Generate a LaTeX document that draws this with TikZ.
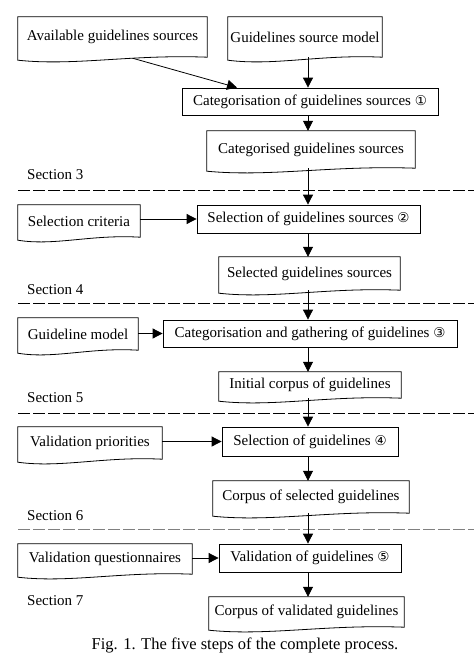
\documentclass[tikz,border=0pt]{standalone}
\usepackage{fontspec}
\setmainfont{Liberation Serif}
\newfontfamily\circfont{DejaVu Sans}
\usetikzlibrary{arrows.meta,calc}

\newcommand{\stepno}[1]{{\circfont\fontsize{13.5}{15}\selectfont #1}}

\begin{document}
\begin{tikzpicture}[x=1pt,y=-1pt,
    font=\fontsize{15}{17}\selectfont,
    proc/.style={draw,line width=0.8pt,rectangle,inner sep=0pt,align=center},
    doc/.style={rectangle,inner sep=0pt,align=center},
    flow/.style={-{Triangle[length=10pt,width=10pt]},line width=0.8pt},
    cut/.style={line width=0.8pt,dash pattern=on 12pt off 3pt},
    sec/.style={anchor=west,inner sep=0pt}]
      \useasboundingbox (0,0) rectangle (474,653);

      % inputs (document shapes)
      \node[doc,minimum width=189pt,minimum height=40pt] (avail) at (112.5,37) {Available guidelines sources};
      \node[doc,minimum width=154pt,minimum height=40pt] (srcmodel) at (305,37) {Guidelines source model};
      \node[doc,minimum width=208pt,minimum height=37pt] (catsrc) at (311,149.5) {Categorised guidelines sources};
      \node[doc,minimum width=122pt,minimum height=32pt] (selcrit) at (79,221) {Selection criteria};
      \node[doc,minimum width=181pt,minimum height=33pt] (selsrc) at (309.5,273.5) {Selected guidelines sources};
      \node[doc,minimum width=120pt,minimum height=32pt] (gmodel) at (78,334) {Guideline model};
      \node[doc,minimum width=182pt,minimum height=26pt] (initcorp) at (310,385) {Initial corpus of guidelines};
      \node[doc,minimum width=144pt,minimum height=32pt] (valprio) at (90,443) {Validation priorities};
      \node[doc,minimum width=196pt,minimum height=32pt] (corpsel) at (311,497) {Corpus of selected guidelines};
      \node[doc,minimum width=174pt,minimum height=30pt] (valq) at (105,559) {Validation questionnaires};
      \node[doc,minimum width=195pt,minimum height=30pt] (corpval) at (306.5,612) {Corpus of validated guidelines};

      \foreach \n in {avail,srcmodel,catsrc,selcrit,selsrc,gmodel,initcorp,valprio,corpsel,valq,corpval}
        \draw[line width=0.8pt] (\n.north west) -- (\n.north east) -- (\n.south east)
          .. controls ($(\n.south east)!0.4!(\n.south west)+(0,-3)$) and ($(\n.south east)!0.7!(\n.south west)+(0,9)$)
          .. ($(\n.south west)+(0,3)$) -- cycle;

      % the five steps
      \node[proc,minimum width=256pt,minimum height=27pt] (step1) at (310,101.5) {Categorisation of guidelines sources \stepno{①}};
      \node[proc,minimum width=223pt,minimum height=28pt] (step2) at (308.5,219) {Selection of guidelines sources \stepno{②}};
      \node[proc,minimum width=294pt,minimum height=27pt] (step3) at (310,333.5) {Categorisation and gathering of guidelines \stepno{③}};
      \node[proc,minimum width=176pt,minimum height=29pt] (step4) at (310,441.5) {Selection of guidelines \stepno{④}};
      \node[proc,minimum width=182pt,minimum height=28pt] (step5) at (310,558) {Validation of guidelines \stepno{⑤}};

      % section borders
      \coordinate (cut3) at (18,190);
      \coordinate (cut4) at (18,303);
      \coordinate (cut5) at (18,413);
      \coordinate (cut6) at (18,529);
      \draw[cut] (cut3) -- (474,190);
      \draw[cut] (cut4) -- (474,303);
      \draw[cut] (cut5) -- (474,413);
      \draw[cut,gray] (cut6) -- (474,529);

      \node[sec] (sec3) at (27,175) {Section 3};
      \node[sec] (sec4) at (27,290) {Section 4};
      \node[sec] (sec5) at (27,398) {Section 5};
      \node[sec] (sec6) at (27,516) {Section 6};
      \node[sec] (sec7) at (27,601) {Section 7};

      % flow
      \draw[flow] ($(avail.south)+(20,1)$) -- ($(step1.north)+(-73,0)$);
      \draw[flow] (srcmodel.south -| 308,0) -- (step1.north -| 308,0);
      \draw[flow] (step1.south -| 308,0) -- (catsrc.north -| 308,0);
      \draw[flow] (catsrc.south -| 308,0) -- (step2.north -| 308,0);
      \draw[flow] (selcrit.east |- step2) -- (step2.west);
      \draw[flow] (step2.south -| 308,0) -- (selsrc.north -| 308,0);
      \draw[flow] (selsrc.south -| 308,0) -- (step3.north -| 308,0);
      \draw[flow] (gmodel.east |- step3) -- (step3.west);
      \draw[flow] (step3.south -| 308,0) -- (initcorp.north -| 308,0);
      \draw[flow] (initcorp.south -| 308,0) -- (step4.north -| 308,0);
      \draw[flow] (valprio.east |- step4) -- (step4.west);
      \draw[flow] (step4.south -| 308,0) -- (corpsel.north -| 308,0);
      \draw[flow] (corpsel.south -| 308,0) -- (step5.north -| 308,0);
      \draw[flow] (valq.east |- step5) -- (step5.west);
      \draw[flow] (step5.south -| 308,0) -- (corpval.north -| 308,0);

      \node[font=\fontsize{16.5}{19}\selectfont] (caption) at (245,645) {Fig. 1. The five steps of the complete process.};
\end{tikzpicture}
\end{document}
